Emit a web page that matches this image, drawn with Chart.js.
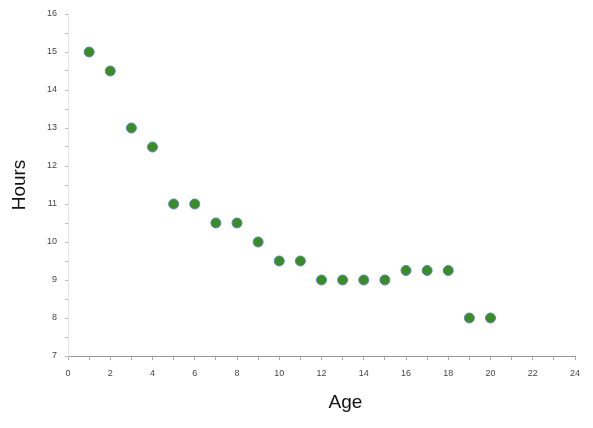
<!DOCTYPE html>
<html>
<head>
<meta charset="utf-8">
<script src="https://cdn.jsdelivr.net/npm/chart.js@4"></script>
<style>
html,body{margin:0;padding:0;background:#fff;}
#wrap{width:593px;height:428px;position:relative;}
</style>
</head>
<body>
<div id="wrap"><canvas id="c" width="593" height="428"></canvas></div>
<script>
const ages = [1,2,3,4,5,6,7,8,9,10,11,12,13,14,15,16,17,18,19,20];
const hours = [15,14.5,13,12.5,11,11,10.5,10.5,10,9.5,9.5,9,9,9,9,9.25,9.25,9.25,8,8];
const xTitle = 'Age';
const yTitle = 'Hours';

const points = ages.map((a,i)=>({x:a,y:hours[i]}));

const xTitlePlugin = {
  id: 'xTitlePlugin',
  afterDraw(chart) {
    const ctx = chart.ctx;
    const xs = chart.scales.x;
    ctx.save();
    ctx.font = '19px "Liberation Sans"';
    ctx.fillStyle = '#111';
    ctx.textAlign = 'center';
    ctx.textBaseline = 'middle';
    ctx.fillText(xTitle, (xs.left + xs.right) / 2 + 24, xs.bottom - 25);
    ctx.restore();
  }
};

new Chart(document.getElementById('c'), {
  type: 'scatter',
  data: {
    datasets: [{
      data: points,
      backgroundColor: '#3b8c22',
      borderColor: '#5a86c4',
      borderWidth: 1,
      pointRadius: 5,
      pointHoverRadius: 5
    }]
  },
  plugins: [xTitlePlugin],
  options: {
    responsive: false,
    animation: false,
    devicePixelRatio: 1,
    layout: {padding: {top: 14, right: 18, left: 0, bottom: 0}},
    plugins: {legend: {display: false}, tooltip: {enabled: false}},
    scales: {
      x: {
        type: 'linear',
        min: 0, max: 24,
        ticks: {
          stepSize: 1,
          autoSkip: false,
          maxRotation: 0,
          padding: 8,
          color: '#444',
          font: {family: 'Liberation Sans', size: 9},
          callback: v => (v % 2 === 0 ? String(v) : '')
        },
        grid: {drawOnChartArea: false, tickLength: 4, tickColor: '#aaa', tickWidth: 1},
        border: {display: true, color: '#999', width: 1},
        title: {display: false},
        afterFit: s => { s.height = 72; }
      },
      y: {
        type: 'linear',
        min: 7, max: 16,
        ticks: {
          stepSize: 0.5,
          autoSkip: false,
          padding: 8,
          color: '#444',
          font: {family: 'Liberation Sans', size: 9},
          callback: v => (Number.isInteger(v) ? String(v) : '')
        },
        grid: {drawOnChartArea: false, tickLength: 3, tickColor: '#bbb', tickWidth: 1},
        border: {display: true, color: '#e4e4e4', width: 1, dash: [1,2]},
        title: {display: true, text: yTitle, color: '#111', font: {family: 'Liberation Sans', size: 19}, padding: {top: 8, bottom: 0}},
        afterFit: s => { s.width = 68; }
      }
    }
  }
});
</script>
</body>
</html>
